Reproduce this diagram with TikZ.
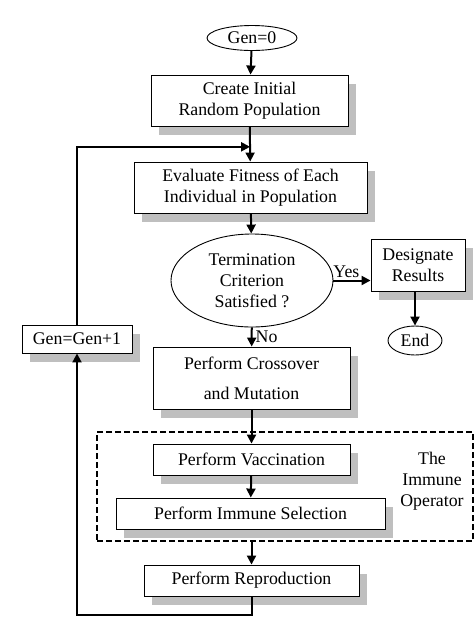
\documentclass[tikz,border=0pt]{standalone}
\usepackage{fontspec}
\setmainfont{Liberation Serif}
\usetikzlibrary{shapes.geometric,shadows,arrows.meta,calc}

\begin{document}
\begin{tikzpicture}[x=1pt,y=-1pt,
  every node/.style={align=center,draw,inner sep=0pt,
    font=\fontsize{17.8}{21}\selectfont},
  box/.style={rectangle,fill=white,line width=0.9pt,
    drop shadow={shadow xshift=8pt,shadow yshift=-9pt,fill=black!25,opacity=1}},
  oval/.style={ellipse,fill=white,line width=0.9pt},
  lbl/.style={draw=none},
  flow/.style={line width=2pt,-{Triangle[length=9pt,width=9pt]}}]
\useasboundingbox (0,0) rectangle (474,641);

\node (immbox) [dash pattern=on 6pt off 3pt,line width=1.2pt,minimum width=376pt,
  minimum height=109pt] at (285,486.5) {};
\node (immop) [lbl] at (432,481) {The\\Immune\\Operator};

\node (gen0) [oval,minimum width=90pt,minimum height=25pt] at (252,38) {Gen=0};
\node (create) [box,minimum width=197pt,minimum height=51pt] at (249.5,100.5)
  {Create Initial\\Random Population};
\node (eval) [box,minimum width=233pt,minimum height=51pt] at (250.5,187.5)
  {Evaluate Fitness of Each\\Individual in Population};
\node (term) [oval,minimum width=162pt,minimum height=93pt] at (252,280.5)
  {Termination\\Criterion\\Satisfied ?};
\node (desig) [box,minimum width=94pt,minimum height=52pt] at (418,265)
  {Designate\\Results};
\node (end) [oval,minimum width=54pt,minimum height=29pt] at (415,340.5) {End};
\node (incr) [box,minimum width=110pt,minimum height=28pt] at (77,339) {Gen=Gen+1};
\node (cross) [box,minimum width=197pt,minimum height=62pt] at (251.5,378)
  {Perform Crossover\\[9pt]and Mutation};
\node (vacc) [box,minimum width=197pt,minimum height=31pt] at (251.5,459.5)
  {Perform Vaccination};
\node (immsel) [box,minimum width=269pt,minimum height=31pt] at (250.5,513.5)
  {Perform Immune Selection};
\node (repro) [box,minimum width=215pt,minimum height=31pt] at (251.5,580.5)
  {Perform Reproduction};

\coordinate (join) at ($(create.south)!0.58!(eval.north)$);

\foreach \a/\b in {gen0/create,create/eval,eval/term,cross/vacc,vacc/immsel}
  \draw [flow] (\a) -- (\b) ;
\draw [flow] (term.east) -- node [lbl,above=2pt,pos=0.35] {Yes} (term.east -| desig.west) ;
\draw [flow] (desig.south -| end) -- (end) ;
\draw [flow] (term) -- node [lbl,right=3pt] {No} (cross) ;
\draw [flow] (immbox.south -| repro.north) -- (repro) ;
\draw [flow] (repro.south) -- ++(0,19) -| (incr.south) ;
\draw [flow] (incr.north) |- (join) ;
\end{tikzpicture}
\end{document}
